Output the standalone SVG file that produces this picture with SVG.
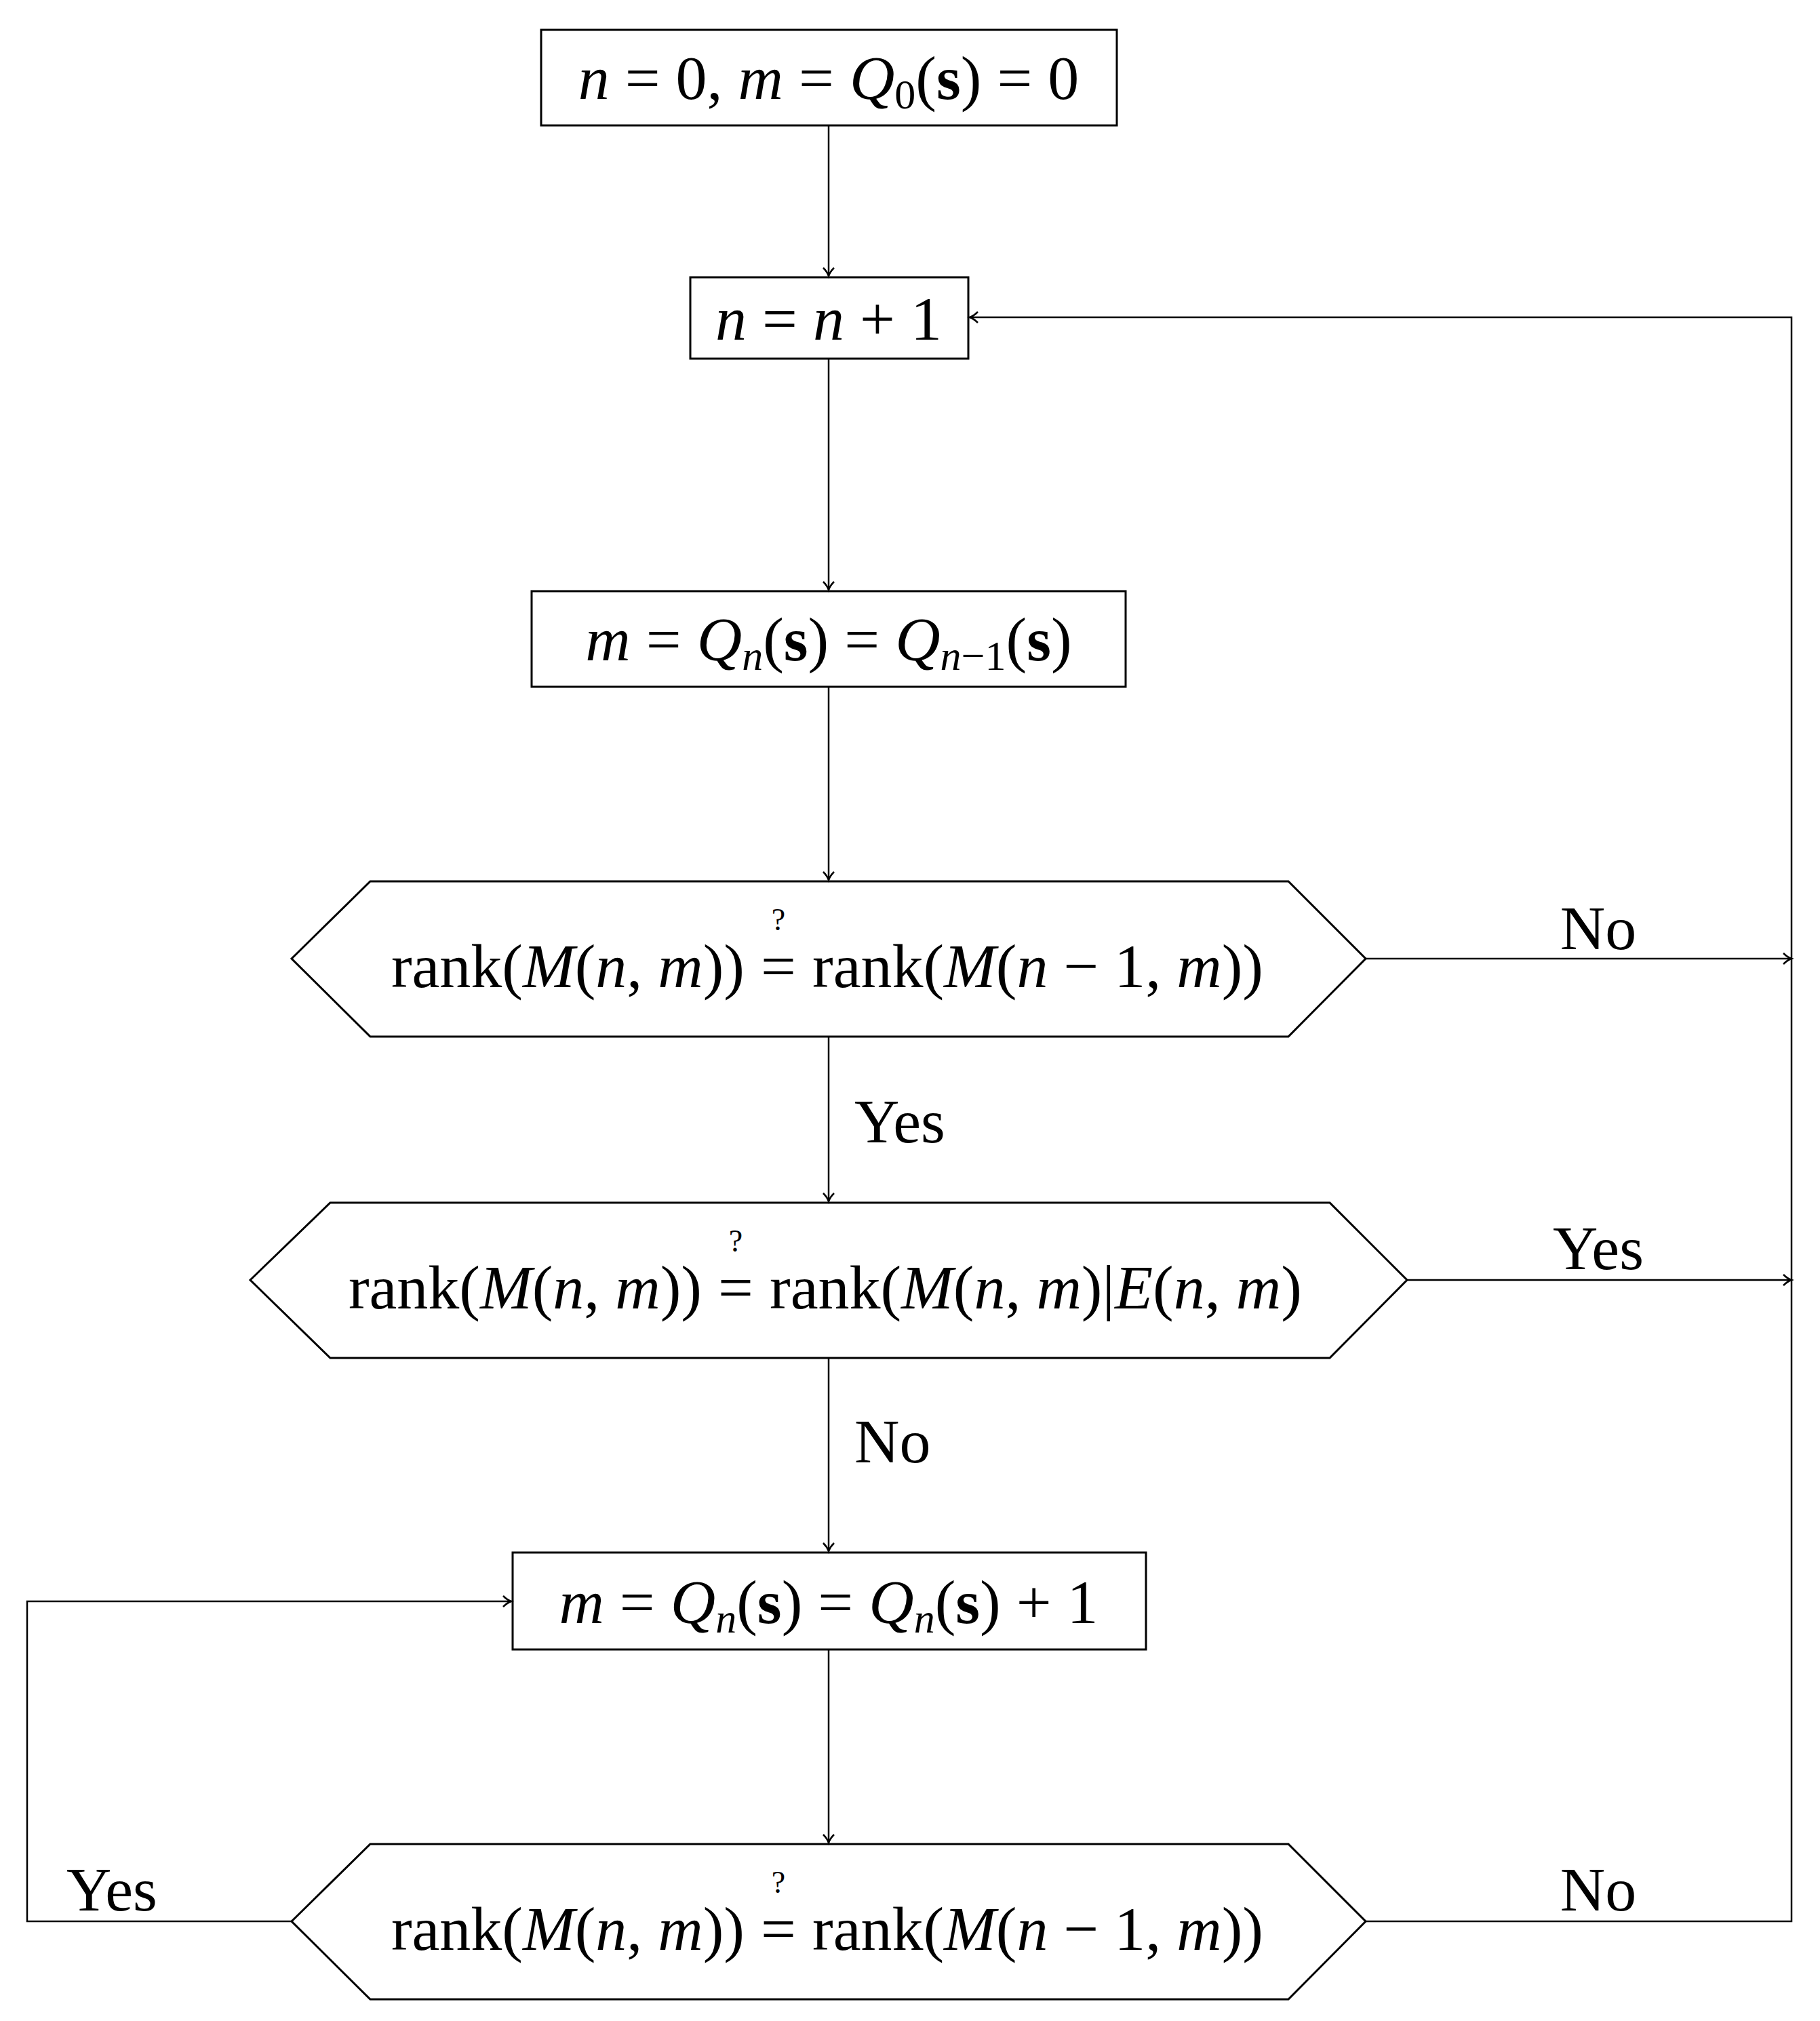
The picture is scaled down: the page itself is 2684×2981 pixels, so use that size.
<svg xmlns="http://www.w3.org/2000/svg" width="2684" height="2981" viewBox="0 0 2684 2981">
<style>
.s{fill:none;stroke:#000;stroke-width:3}
.c{fill:none;stroke:#000;stroke-width:2.5}
text{font-family:"Liberation Serif","DejaVu Serif",serif;font-size:92px;fill:#000}
.m{text-anchor:middle}
.e{text-anchor:end}
.i{font-style:italic}
.b{font-weight:bold}
.sub{font-size:62px}
.q{font-size:46px}
</style>
<defs>
<marker id="a" markerWidth="20" markerHeight="20" refX="16" refY="10" orient="auto" markerUnits="userSpaceOnUse">
<path d="M4,2 Q10,8 16,10 Q10,12 4,18" fill="none" stroke="#000" stroke-width="2.5"/>
</marker>
</defs>
<rect width="2684" height="2981" fill="#fff"/>
<g id="connectors">
<line class="c" x1="1222" y1="185" x2="1222" y2="407" marker-end="url(#a)"/>
<line class="c" x1="1222" y1="529" x2="1222" y2="870" marker-end="url(#a)"/>
<line class="c" x1="1222" y1="1013" x2="1222" y2="1298" marker-end="url(#a)"/>
<line class="c" x1="1222" y1="1529" x2="1222" y2="1772" marker-end="url(#a)"/>
<line class="c" x1="1222" y1="2003" x2="1222" y2="2288" marker-end="url(#a)"/>
<line class="c" x1="1222" y1="2433" x2="1222" y2="2718" marker-end="url(#a)"/>
<line class="c" x1="2014" y1="1414" x2="2642" y2="1414" marker-end="url(#a)"/>
<line class="c" x1="2075" y1="1888" x2="2642" y2="1888" marker-end="url(#a)"/>
<polyline class="c" points="2014,2834 2642,2834 2642,468 1430,468" marker-end="url(#a)"/>
<polyline class="c" points="430,2834 40,2834 40,2362 754,2362" marker-end="url(#a)"/>
<text x="2357" y="1400" class="m">No</text>
<text x="1260" y="1685">Yes</text>
<text x="2357" y="1872" class="m">Yes</text>
<text x="1260" y="2157">No</text>
<text x="98" y="2818">Yes</text>
<text x="2357" y="2818" class="m">No</text>
</g>
<g id="n1">
<rect class="s" x="798" y="44" width="849" height="141"/>
<text x="1222" y="146" class="m"><tspan class="i">n</tspan> = 0, <tspan class="i">m</tspan> = <tspan class="i">Q</tspan><tspan class="sub" dy="14">0</tspan><tspan dy="-14">(</tspan><tspan class="b">s</tspan>) = 0</text>
</g>
<g id="n2">
<rect class="s" x="1018" y="409" width="410" height="120"/>
<text x="1222" y="501" class="m"><tspan class="i">n</tspan> = <tspan class="i">n</tspan> + 1</text>
</g>
<g id="n3">
<rect class="s" x="784" y="872" width="876" height="141"/>
<text x="1222" y="974" class="m"><tspan class="i">m</tspan> = <tspan class="i">Q</tspan><tspan class="sub i" dy="14">n</tspan><tspan dy="-14">(</tspan><tspan class="b">s</tspan>) = <tspan class="i">Q</tspan><tspan class="sub" dy="14"><tspan class="i">n</tspan>−1</tspan><tspan dy="-14">(</tspan><tspan class="b">s</tspan>)</text>
</g>
<g id="d1">
<polygon class="s" points="430,1414 546,1300 1900,1300 2014,1414 1900,1529 546,1529"/>
<text x="1098" y="1456" class="e">rank(<tspan class="i">M</tspan>(<tspan class="i">n</tspan>, <tspan class="i">m</tspan>))</text>
<text x="1148" y="1456" class="m">=</text>
<text x="1198" y="1456">rank(<tspan class="i">M</tspan>(<tspan class="i">n</tspan> − 1, <tspan class="i">m</tspan>))</text>
<text x="1148" y="1372" class="m q">?</text>
</g>
<g id="d2">
<polygon class="s" points="369,1888 487,1774 1961,1774 2075,1888 1961,2003 487,2003"/>
<text x="1035" y="1930" class="e">rank(<tspan class="i">M</tspan>(<tspan class="i">n</tspan>, <tspan class="i">m</tspan>))</text>
<text x="1085" y="1930" class="m">=</text>
<text x="1135" y="1930">rank(<tspan class="i">M</tspan>(<tspan class="i">n</tspan>, <tspan class="i">m</tspan>)|<tspan class="i">E</tspan>(<tspan class="i">n</tspan>, <tspan class="i">m</tspan>)</text>
<text x="1085" y="1846" class="m q">?</text>
</g>
<g id="n4">
<rect class="s" x="756" y="2290" width="934" height="143"/>
<text x="1222" y="2394" class="m"><tspan class="i">m</tspan> = <tspan class="i">Q</tspan><tspan class="sub i" dy="14">n</tspan><tspan dy="-14">(</tspan><tspan class="b">s</tspan>) = <tspan class="i">Q</tspan><tspan class="sub i" dy="14">n</tspan><tspan dy="-14">(</tspan><tspan class="b">s</tspan>) + 1</text>
</g>
<g id="d3">
<polygon class="s" points="430,2834 546,2720 1900,2720 2014,2834 1900,2949 546,2949"/>
<text x="1098" y="2876" class="e">rank(<tspan class="i">M</tspan>(<tspan class="i">n</tspan>, <tspan class="i">m</tspan>))</text>
<text x="1148" y="2876" class="m">=</text>
<text x="1198" y="2876">rank(<tspan class="i">M</tspan>(<tspan class="i">n</tspan> − 1, <tspan class="i">m</tspan>))</text>
<text x="1148" y="2792" class="m q">?</text>
</g>
</svg>
